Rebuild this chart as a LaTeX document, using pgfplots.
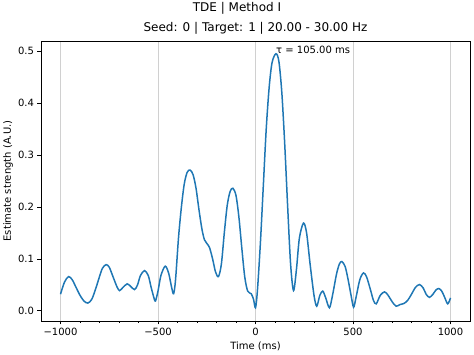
\documentclass[border=0pt]{standalone}
\usepackage{pgfplots}
\pgfplotsset{compat=1.18}
\usepackage{fontspec}
\setmainfont{DejaVu Sans}
\definecolor{mplblue}{HTML}{1F77B4}
\definecolor{gridgray}{HTML}{D0D0D0}
\begin{document}
\begin{tikzpicture}
\useasboundingbox (-41pt,-34pt) rectangle (433pt,321pt);
\begin{axis}[
  at={(0pt,0pt)}, anchor=south west,
  scale only axis, width=429pt, height=280pt,
  xmin=-1100, xmax=1100, ymin=-0.0195, ymax=0.5195,
  xtick={-1000,-500,0,500,1000},
  xticklabels={−1000,−500,0,500,1000},
  minor x tick num=4,
  ytick={0,0.1,0.2,0.3,0.4,0.5},
  yticklabels={0.0,0.1,0.2,0.3,0.4,0.5},
  tick align=outside,
  major tick length=3.5pt, minor tick length=2pt,
  tick style={line width=0.8pt, black},
  xtick pos=bottom, ytick pos=left,
  axis line style={line width=0.8pt},
  xmajorgrids, major x grid style={gridgray, line width=0.8pt},
  ticklabel style={font=\fontsize{10}{12}\selectfont},
  /pgf/number format/assume math mode=true,
  clip=false,
]
\addplot[mplblue, line width=1.5pt, smooth, tension=0.5] coordinates {
(-1000,0.032) (-980,0.055) (-959,0.066) (-940,0.060) (-920,0.045) (-900,0.030)
(-880,0.019) (-860,0.015) (-840,0.022) (-820,0.042) (-800,0.066) (-785,0.082)
(-766,0.089) (-750,0.084) (-730,0.065) (-710,0.046) (-697,0.039) (-680,0.045)
(-658,0.052) (-640,0.047) (-620,0.041) (-605,0.050) (-590,0.068) (-569,0.0775)
(-550,0.068) (-535,0.045) (-520,0.024) (-513,0.019) (-500,0.038) (-485,0.068)
(-463,0.086) (-445,0.072) (-430,0.045) (-420,0.033) (-410,0.060) (-395,0.140)
(-380,0.200) (-365,0.245) (-350,0.267) (-335,0.271) (-320,0.262) (-305,0.236)
(-290,0.195) (-275,0.158) (-262,0.137) (-250,0.130) (-236,0.122) (-220,0.100)
(-205,0.075) (-190,0.066) (-175,0.090) (-160,0.150) (-145,0.203) (-130,0.230)
(-116,0.236) (-100,0.222) (-85,0.180) (-70,0.120) (-55,0.065) (-40,0.038)
(-22,0.033) (-10,0.022) (0,0.006) (10,0.040) (25,0.130) (40,0.240)
(55,0.350) (70,0.430) (85,0.478) (105,0.495) (120,0.480) (135,0.420)
(150,0.320) (165,0.200) (180,0.090) (195,0.039) (210,0.080) (225,0.140)
(246,0.169) (262,0.150) (280,0.090) (300,0.030) (314,0.009) (330,0.030)
(345,0.038) (360,0.025) (379,0.006) (395,0.030) (415,0.070) (430,0.090)
(443,0.095) (460,0.085) (475,0.060) (490,0.030) (503,0.007) (515,0.025)
(535,0.060) (554,0.073) (570,0.065) (590,0.040) (605,0.020) (619,0.0135)
(640,0.030) (662,0.0365) (680,0.030) (700,0.018) (721,0.009) (740,0.012)
(760,0.014) (780,0.020) (800,0.032) (820,0.045) (841,0.0507) (860,0.044)
(875,0.032) (892,0.026) (910,0.032) (925,0.040) (940,0.043) (955,0.038)
(970,0.026) (986,0.0135) (1000,0.025)
};
\node[anchor=base west, inner sep=0pt, font=\fontsize{10}{12}\selectfont] at (axis cs:105,0.495) {τ = 105.00 ms};
\end{axis}
\node[font=\fontsize{12}{14}\selectfont] at (196pt,313pt) {TDE | Method I};
\node[font=\fontsize{12}{14}\selectfont] at (214.5pt,293pt) {Seed: 0 | Target: 1 | 20.00 - 30.00 Hz};
\node[font=\fontsize{10}{12}\selectfont] at (214.5pt,-25pt) {Time (ms)};
\node[rotate=90, font=\fontsize{10}{12}\selectfont] at (-33pt,140pt) {Estimate strength (A.U.)};
\end{tikzpicture}
\end{document}
